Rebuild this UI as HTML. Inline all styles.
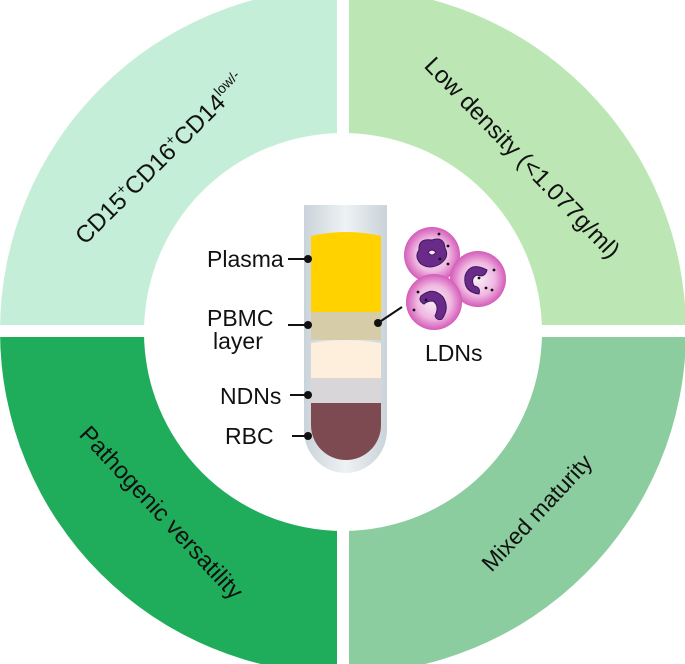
<!DOCTYPE html>
<html><head><meta charset="utf-8"><style>
html,body{margin:0;padding:0;background:#fff;}
svg{display:block;font-family:"Liberation Sans",Arial,sans-serif;}
</style></head><body>
<svg width="685" height="664" viewBox="0 0 685 664" xmlns="http://www.w3.org/2000/svg">
<defs>
<radialGradient id="cell" cx="50%" cy="50%" r="50%">
<stop offset="0" stop-color="#fbeef8"/><stop offset="0.6" stop-color="#f0b8e2"/><stop offset="1" stop-color="#d45bb8"/>
</radialGradient>
<linearGradient id="tube" x1="0" x2="1">
<stop offset="0" stop-color="#c9d3d9"/><stop offset="0.5" stop-color="#eef2f4"/><stop offset="1" stop-color="#c9d3d9"/>
</linearGradient>
</defs>
<g>
<path d="M343 331 L0 331 A343 343 0 0 1 343 -12 Z" fill="#c5eed9"/>
<path d="M343 331 L343 -12 A343 343 0 0 1 686 331 Z" fill="#bce6b4"/>
<path d="M343 331 L0 331 A343 343 0 0 0 343 674 Z" fill="#20ad5b"/>
<path d="M343 331 L686 331 A343 343 0 0 1 343 674 Z" fill="#8bcd9f"/>
<rect x="0" y="325" width="685" height="12" fill="#fff"/>
<rect x="337" y="0" width="12" height="664" fill="#fff"/>
<circle cx="343" cy="332" r="199" fill="#fff"/>
</g>
<g font-size="24" fill="#111" text-anchor="middle">
<text transform="translate(160,158) rotate(-45)" dy="9">CD15<tspan font-size="14" dy="-10">+</tspan><tspan dy="10">CD16</tspan><tspan font-size="14" dy="-10">+</tspan><tspan dy="10">CD14</tspan><tspan font-size="14" dy="-10">low/-</tspan></text>
<text transform="translate(523,157) rotate(46)" dy="9">Low density (&lt;1.077g/ml)</text>
<text transform="translate(162,512) rotate(47)" dy="9">Pathogenic versatility</text>
<text transform="translate(536,512) rotate(-47)" dy="9" font-size="23">Mixed maturity</text>
</g>
<!-- tube -->
<path d="M304 205 L387 205 L387 430 A41.5 43 0 0 1 304 430 Z" fill="url(#tube)"/>
<path d="M311 236 Q346 228 381 236 L381 312 L311 312 Z" fill="#ffd200"/>
<rect x="311" y="312" width="70" height="28" fill="#d6cca8"/>
<path d="M311 343 Q346 338 381 343 L381 378 L311 378 Z" fill="#fdefdc"/>
<rect x="311" y="378" width="70" height="25" fill="#d8d6d9"/>
<path d="M311 403 L381 403 L381 425 A35 35 0 0 1 311 425 Z" fill="#7d4a52"/>
<g fill="#111" font-size="23">
<text x="207" y="267">Plasma</text>
<text x="207" y="326">PBMC</text>
<text x="213" y="349">layer</text>
<text x="220" y="404">NDNs</text>
<text x="225" y="444">RBC</text>
<text x="425" y="361">LDNs</text>
</g>
<g stroke="#111" stroke-width="2">
<line x1="288" y1="259" x2="308" y2="259"/>
<line x1="288" y1="325" x2="308" y2="325"/>
<line x1="290" y1="395" x2="308" y2="395"/>
<line x1="292" y1="436" x2="308" y2="436"/>
<line x1="378" y1="323" x2="402" y2="307"/>
</g>
<g fill="#111">
<circle cx="308" cy="259" r="4"/><circle cx="308" cy="325" r="4"/>
<circle cx="308" cy="395" r="4"/><circle cx="308" cy="436" r="4"/>
<circle cx="378" cy="323" r="4"/>
</g>
<!-- cells -->
<circle cx="432" cy="255" r="28" fill="url(#cell)"/>
<path d="M419 250 Q418 238 432 240 Q444 236 445 248 Q450 257 440 264 Q430 270 421 264 Q414 257 419 250 Z M428 252 Q432 258 436 252 Q432 248 428 252Z" fill="#6a2a8a" stroke="#3a1a5a"/>
<circle cx="478" cy="279" r="28" fill="url(#cell)"/>
<path d="M487 270 Q470 261 465 276 Q463 292 479 294 Q481 287 474 286 Q470 278 477 275 Q485 278 487 270Z" fill="#6a2a8a" stroke="#3a1a5a"/>
<circle cx="434" cy="302" r="28" fill="url(#cell)"/>
<path d="M421 296 Q433 286 443 297 Q450 308 442 319 Q437 321 435 316 Q440 306 433 301 Q427 301 424 304 Q418 301 421 296Z" fill="#6a2a8a" stroke="#3a1a5a"/>
<g fill="#111">
<circle cx="439" cy="234" r="1.4"/><circle cx="448" cy="246" r="1.4"/><circle cx="440" cy="259" r="1.4"/><circle cx="448" cy="264" r="1.4"/>
<circle cx="494" cy="270" r="1.4"/><circle cx="486" cy="288" r="1.4"/><circle cx="492" cy="290" r="1.4"/><circle cx="479" cy="278" r="1.4"/>
<circle cx="414" cy="310" r="1.4"/><circle cx="418" cy="292" r="1.4"/><circle cx="426" cy="300" r="1.4"/>
</g>
</svg>
</body></html>
